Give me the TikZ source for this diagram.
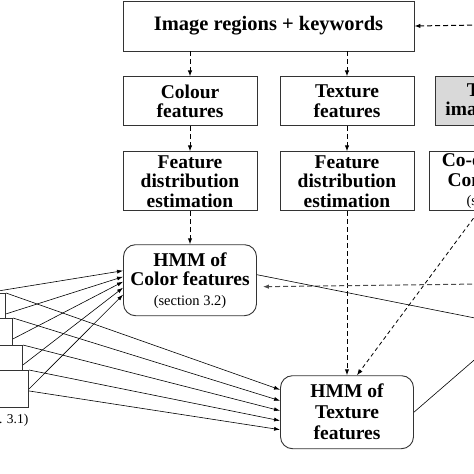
\documentclass[tikz,border=0pt]{standalone}
\usepackage{fontspec}
\setmainfont{Liberation Serif}
\usetikzlibrary{positioning, arrows.meta}

\begin{document}
\begin{tikzpicture}[x=1pt, y=-1pt, node distance=25pt,
        box/.style={draw=black!80, line width=0.9pt, align=center, inner sep=0pt,
                    font=\fontsize{19.5}{19.5}\selectfont\bfseries},
        hmm/.style={box, rounded corners=12pt},
        flow/.style={-{Latex[length=6pt,width=4.5pt]}, line width=1pt, dash pattern=on 5pt off 3pt},
        feed/.style={-{Latex[length=6pt,width=4pt]}, line width=0.6pt}]
        \useasboundingbox (0,0) rectangle (474,474);
        \clip (0,0) rectangle (474,474);

        \node[box, minimum width=291pt, minimum height=50pt]  (regions)  at (268.5,26) {\fontsize{20.5}{19.5}\selectfont Image regions + keywords};
        \node[box, minimum width=134pt, minimum height=49pt, below=of regions.south west, anchor=north west]  (colour)  {Colour\\features};
        \node[box, minimum width=134pt, minimum height=49pt, below=of regions.south east, anchor=north east]  (texture) {Texture\\features};
        \node[box, fill=black!15, minimum width=134pt, minimum height=49pt, right=21pt of texture]  (train)  {Training\\image regions};
        \node[box, minimum width=134pt, minimum height=59pt, below=of colour]   (fdecol)  {Feature\\distribution\\estimation};
        \node[box, minimum width=134pt, minimum height=59pt, below=of texture]  (fdetex)  {Feature\\distribution\\estimation};
        \node[box, minimum width=146pt, minimum height=59pt, right=15pt of fdetex]  (cooc)  {Co-occurrence\\Computation\\{\mdseries\fontsize{14.5}{14.5}\selectfont (section 3.3)}};
        \node[hmm, minimum width=133pt, minimum height=71pt, below=33pt of fdecol]  (hmmcol)  {HMM of\\Color features\\{\mdseries\fontsize{14.5}{14.5}\selectfont (section 3.2)}};
        \node[hmm, minimum width=133pt, minimum height=73pt, below=164pt of fdetex]  (hmmtex)  {HMM of\\[1.5pt]Texture\\[1.5pt]features};

        % stacked region boxes, cut at the left border
        \node[draw=black!80, line width=0.9pt, minimum width=60pt, minimum height=25pt, anchor=north east] (sa) at (6,293) {};
        \node[draw=black!80, line width=0.9pt, minimum width=70pt, minimum height=27pt, anchor=north east] (sb) at (13,318) {};
        \node[draw=black!80, line width=0.9pt, minimum width=80pt, minimum height=25pt, anchor=north east] (sc) at (23,345) {};
        \node[draw=black!80, line width=0.9pt, minimum width=90pt, minimum height=37pt, anchor=north east] (sd) at (29,370) {};
        \node[font=\fontsize{13.5}{13.5}\selectfont, anchor=base east, inner sep=0pt] (secone) at (28.5,423) {(sect. 3.1)};

        \coordinate (inreg) at (480,25);
        \coordinate (incol) at (480,284);
        \coordinate (outcol) at (480,319);
        \coordinate (outtex) at (480,355);
        \coordinate (inleft) at (-2,291);

        \draw[flow] (inreg) -- (regions.east);
        \draw[flow] (regions.south -| colour.north) -- (colour);
        \draw[flow] (regions.south -| texture.north) -- (texture);
        \draw[flow] (colour) -- (fdecol);
        \draw[flow] (texture) -- (fdetex);
        \draw[flow] (fdecol) -- (hmmcol);
        \draw[flow] (fdetex) -- (hmmtex);
        \draw[flow, dash pattern=on 4pt off 3pt, line width=0.8pt] ([xshift=44pt,yshift=-7pt]cooc.south west) -- ([xshift=10pt]hmmtex.north);
        \draw[flow, draw=black!70] (incol) -- ([xshift=6pt,yshift=-6.5pt]hmmcol.east);

        \draw[line width=0.6pt] ([yshift=5.5pt]hmmcol.east) -- (outcol);
        \draw[line width=0.6pt] (hmmtex.east) -- (outtex);

        \draw[feed] (inleft) -- ([yshift=9.5pt]hmmcol.west);
        \draw[feed] ([yshift=5pt]sa.south east) -- ([yshift=3.5pt]hmmcol.west);
        \draw[feed] ([yshift=7pt]sb.south east) -- ([yshift=-1.5pt]hmmcol.west);
        \draw[feed] ([yshift=6pt]sc.south east) -- ([yshift=-7.5pt]hmmcol.west);
        \draw[feed] (sd.east) -- ([yshift=-14.5pt]hmmcol.west);

        \draw[feed] (sa.north east) -- ([yshift=22.5pt]hmmtex.west);
        \draw[feed] (sb.north east) -- ([yshift=11.5pt]hmmtex.west);
        \draw[feed] (sc.north east) -- ([yshift=1.5pt]hmmtex.west);
        \draw[feed] (sd.north east) -- ([yshift=-8.5pt]hmmtex.west);
        \draw[feed] ([yshift=-2pt]sd.east) -- ([yshift=-17.5pt]hmmtex.west);

      \end{tikzpicture}
\end{document}
